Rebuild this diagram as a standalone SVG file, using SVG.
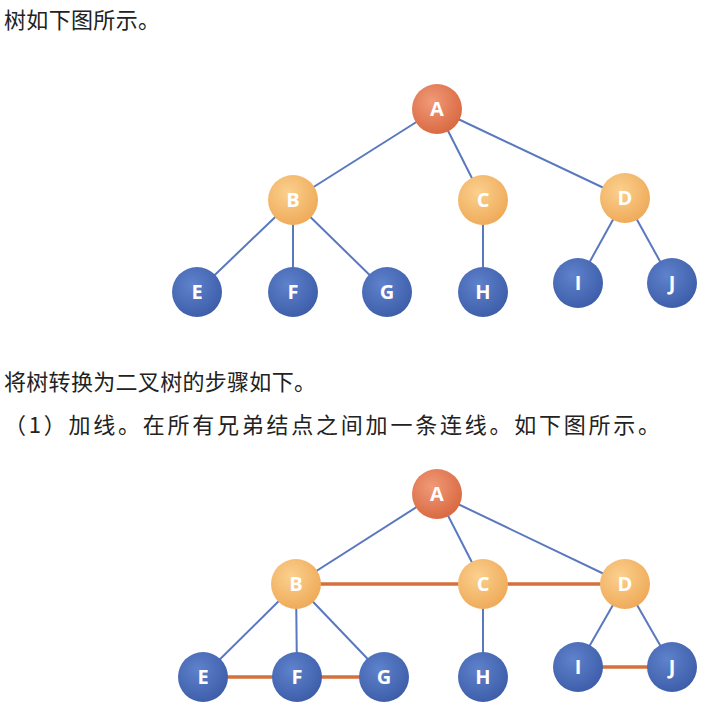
<svg xmlns="http://www.w3.org/2000/svg" width="706" height="706" viewBox="0 0 706 706">
<defs>
<radialGradient id="gr" cx="0.4" cy="0.35" r="0.7"><stop offset="0" stop-color="#f09a78"/><stop offset="1" stop-color="#d8673f"/></radialGradient>
<radialGradient id="go" cx="0.4" cy="0.35" r="0.7"><stop offset="0" stop-color="#fbd08e"/><stop offset="1" stop-color="#eea957"/></radialGradient>
<radialGradient id="gb" cx="0.4" cy="0.35" r="0.7"><stop offset="0" stop-color="#5f82cc"/><stop offset="1" stop-color="#3c5ca8"/></radialGradient>
</defs>
<style>
.t{font-family:"Noto Sans CJK SC","Noto Sans",sans-serif;font-size:22px;fill:#222}
.l{font-family:"Open Sans","Liberation Sans",sans-serif;font-size:20px;font-weight:bold;fill:#fff;text-anchor:middle}
.e{stroke:#5a78bf;stroke-width:2}
.s{stroke:#d4703e;stroke-width:3.5}
.r{fill:url(#gr)}.o{fill:url(#go)}.b{fill:url(#gb)}
</style>
<rect width="706" height="706" fill="#fff"/>
<text class="t" x="4" y="28" textLength="156">树如下图所示。</text>
<text class="t" x="4" y="390" textLength="312">将树转换为二叉树的步骤如下。</text>
<text class="t" x="4" y="433" textLength="656">（1）加线。在所有兄弟结点之间加一条连线。如下图所示。</text>
<g id="connectors">
<line class="e" x1="437" y1="109" x2="293" y2="200"/><line class="e" x1="437" y1="109" x2="483" y2="200"/><line class="e" x1="437" y1="109" x2="625" y2="198"/>
<line class="e" x1="293" y1="200" x2="197" y2="292"/><line class="e" x1="293" y1="200" x2="293" y2="292"/><line class="e" x1="293" y1="200" x2="387" y2="292"/>
<line class="e" x1="483" y1="200" x2="483" y2="292"/><line class="e" x1="625" y1="198" x2="578" y2="283"/><line class="e" x1="625" y1="198" x2="672" y2="283"/>
<line class="e" x1="437" y1="494" x2="296" y2="584"/><line class="e" x1="437" y1="494" x2="483" y2="584"/><line class="e" x1="437" y1="494" x2="625" y2="584"/>
<line class="e" x1="296" y1="584" x2="203" y2="676"/><line class="e" x1="296" y1="584" x2="297" y2="676"/><line class="e" x1="296" y1="584" x2="384" y2="676"/>
<line class="e" x1="483" y1="584" x2="483" y2="676"/><line class="e" x1="625" y1="584" x2="578" y2="666"/><line class="e" x1="625" y1="584" x2="672" y2="666"/>
<line class="s" x1="296" y1="584" x2="625" y2="584"/><line class="s" x1="203" y1="677" x2="384" y2="677"/><line class="s" x1="578" y1="667" x2="672" y2="667"/>
</g>
<g id="A1"><circle class="r" cx="437" cy="109" r="25"/><text class="l" x="437" y="116">A</text></g>
<g id="B1"><circle class="o" cx="293" cy="200" r="25"/><text class="l" x="293" y="207">B</text></g>
<g id="C1"><circle class="o" cx="483" cy="200" r="25"/><text class="l" x="483" y="207">C</text></g>
<g id="D1"><circle class="o" cx="625" cy="198" r="25"/><text class="l" x="625" y="205">D</text></g>
<g id="E1"><circle class="b" cx="197" cy="292" r="25"/><text class="l" x="197" y="299">E</text></g>
<g id="F1"><circle class="b" cx="293" cy="292" r="25"/><text class="l" x="293" y="299">F</text></g>
<g id="G1"><circle class="b" cx="387" cy="292" r="25"/><text class="l" x="387" y="299">G</text></g>
<g id="H1"><circle class="b" cx="483" cy="292" r="25"/><text class="l" x="483" y="299">H</text></g>
<g id="I1"><circle class="b" cx="578" cy="283" r="25"/><text class="l" x="578" y="290">I</text></g>
<g id="J1"><circle class="b" cx="672" cy="283" r="25"/><text class="l" x="672" y="290">J</text></g>
<g id="A2"><circle class="r" cx="437" cy="494" r="25"/><text class="l" x="437" y="501">A</text></g>
<g id="B2"><circle class="o" cx="296" cy="584" r="25"/><text class="l" x="296" y="591">B</text></g>
<g id="C2"><circle class="o" cx="483" cy="584" r="25"/><text class="l" x="483" y="591">C</text></g>
<g id="D2"><circle class="o" cx="625" cy="584" r="25"/><text class="l" x="625" y="591">D</text></g>
<g id="E2"><circle class="b" cx="203" cy="677" r="25"/><text class="l" x="203" y="684">E</text></g>
<g id="F2"><circle class="b" cx="297" cy="677" r="25"/><text class="l" x="297" y="684">F</text></g>
<g id="G2"><circle class="b" cx="384" cy="677" r="25"/><text class="l" x="384" y="684">G</text></g>
<g id="H2"><circle class="b" cx="483" cy="677" r="25"/><text class="l" x="483" y="684">H</text></g>
<g id="I2"><circle class="b" cx="578" cy="667" r="25"/><text class="l" x="578" y="674">I</text></g>
<g id="J2"><circle class="b" cx="672" cy="667" r="25"/><text class="l" x="672" y="674">J</text></g>
</svg>
